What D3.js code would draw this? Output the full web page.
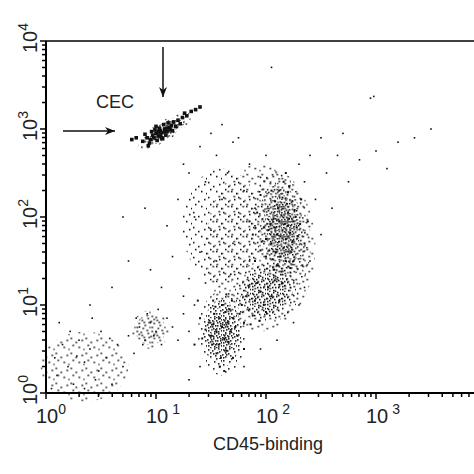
<!DOCTYPE html>
<html>
<head>
<meta charset="utf-8">
<style>body{margin:0;background:#fff}text{font-family:"Liberation Sans",Arial,sans-serif}</style>
</head>
<body>
<script src="https://cdn.jsdelivr.net/npm/d3@7"></script>
<script>
// points as [log10 x, log10 y]
var cecPoints = [[0.88,2.86],[0.92,2.90],[0.95,2.88],[0.97,2.93],[1.00,2.95],[1.02,2.92],[1.04,2.98],[1.06,2.96],[1.08,3.00],[1.10,2.97],[1.12,3.02],[1.14,3.04],[1.05,2.90],[0.99,2.99],[1.03,3.01],[1.07,3.05],[1.11,3.07],[1.16,3.08],[1.20,3.10],[1.24,3.13],[1.28,3.15],[0.94,2.84],[1.01,2.87],[1.09,2.93],[0.90,2.94],[0.96,2.97],[1.13,2.99],[1.18,3.03],[1.22,3.06],[1.00,3.03],[0.93,2.81],[1.06,2.89],[1.15,2.98],[0.98,2.90],[1.04,2.94],[1.08,2.97],[1.02,2.97],[1.10,3.01],[1.26,3.18],[1.32,3.20],[0.82,2.90],[0.78,2.88],[1.36,3.22],[1.40,3.25]];
var lymphPoints = [[2.15,1.85],[2.10,1.80],[2.20,1.90],[2.12,1.95],[2.18,1.75],[2.08,1.88],[2.22,1.82],[2.14,2.02],[2.05,1.70],[2.25,1.95],[2.16,1.65],[2.11,2.10],[2.20,2.05],[2.02,1.85],[2.28,1.88],[2.13,1.55],[2.19,2.15],[2.07,1.98],[2.24,1.72],[2.09,1.60],[2.17,1.92],[2.13,1.78],[2.21,1.98],[2.04,1.92],[2.26,2.08],[2.15,2.22],[2.10,1.45],[2.18,1.50],[2.06,1.52],[2.23,1.60],[2.12,2.30],[2.20,2.28],[2.16,2.40],[2.08,2.18],[2.29,1.78],[2.00,1.75],[2.03,1.62],[2.14,1.38],[2.22,1.42],[2.18,2.50],[1.92,2.05],[1.88,1.80],[1.95,2.25],[2.32,2.20],[2.35,1.70],[2.33,1.45],[1.90,1.50],[1.98,1.88],[2.27,2.00],[2.24,2.18],[1.96,1.72],[2.31,1.92],[2.00,1.55],[1.95,1.62],[2.07,1.40],[2.25,1.50],[2.21,2.35],[2.05,2.30],[2.38,1.95],[1.85,1.95]];
var monoPoints = [[1.60,0.75],[1.55,0.70],[1.65,0.80],[1.58,0.85],[1.62,0.62],[1.52,0.78],[1.68,0.70],[1.57,0.55],[1.63,0.92],[1.50,0.65],[1.70,0.85],[1.55,0.45],[1.60,1.00],[1.66,0.58],[1.53,0.90],[1.59,0.40],[1.72,0.75],[1.48,0.80],[1.64,0.48],[1.42,0.62],[1.40,0.85],[1.67,0.95],[1.58,0.30],[1.62,0.25],[1.45,0.72],[1.74,0.65],[1.51,0.55],[1.69,1.05],[1.54,0.98],[1.80,0.50],[1.76,0.90],[1.70,0.40],[1.52,1.05],[1.64,1.12],[1.80,0.80],[1.85,0.95],[1.90,1.05],[1.95,1.15],[1.88,0.88],[1.98,1.00],[2.02,1.20],[1.92,1.25],[1.82,1.10],[2.05,1.10],[1.78,1.00],[1.86,0.78],[2.00,0.92],[1.94,0.82],[2.08,1.28],[1.84,1.22],[2.12,1.05],[2.15,1.25],[1.38,1.05],[1.35,0.55]];
var sparsePoints = [[0.10,0.20],[0.25,0.10],[0.35,0.35],[0.15,0.55],[0.45,0.15],[0.55,0.40],[0.30,0.60],[0.05,0.05],[0.60,0.10],[0.20,0.30],[0.40,0.50],[0.50,0.70],[0.65,0.55],[0.70,0.30],[0.12,0.80],[0.35,0.05],[0.48,0.25],[0.28,0.42],[0.58,0.62],[0.08,0.40],[0.22,0.70],[0.42,0.85],[0.75,0.65],[0.80,0.45],[0.85,0.75],[0.90,0.60],[0.95,0.80],[1.00,0.70],[0.92,0.90],[1.05,0.55],[0.88,0.55],[0.98,0.65],[1.10,0.85],[0.82,0.85],[1.02,0.95],[1.15,0.75],[1.20,0.60],[1.25,0.90],[1.30,0.70],[1.35,1.00],[1.05,1.20],[0.95,1.40],[1.15,1.55],[1.30,1.30],[1.40,1.60],[1.45,1.25],[1.50,1.85],[1.55,1.50],[1.35,2.00],[1.60,2.20],[1.45,2.40],[1.70,1.70],[1.75,2.00],[1.65,2.50],[1.80,2.30],[1.55,2.70],[1.70,2.85],[1.85,2.60],[1.90,1.90],[1.95,2.45],[2.00,2.70],[1.40,2.80],[1.25,2.60],[1.20,2.20],[1.10,1.90],[0.90,2.10],[0.70,2.00],[0.60,1.20],[0.40,1.00],[0.75,1.50],[1.50,2.95],[1.60,3.05],[1.75,2.90],[1.30,2.50],[2.35,2.40],[2.45,2.20],[2.55,2.50],[2.65,2.70],[2.75,2.40],[2.85,2.65],[3.00,2.75],[3.10,2.55],[3.20,2.85],[3.35,2.90],[3.50,3.00],[2.40,2.70],[2.60,2.10],[2.50,1.80],[2.40,1.50],[2.35,1.20],[2.30,1.00],[2.25,0.80],[2.10,0.60],[1.95,0.50],[1.80,0.30],[1.40,0.30],[1.30,0.15],[2.95,3.35],[2.98,3.37],[2.05,3.70],[1.90,2.10],[1.85,1.50],[1.68,1.35],[1.25,1.10],[2.30,2.60],[2.50,2.90],[2.70,2.95]];
// stippled density regions: [log x, log y, log x radius, log y radius, rotation deg, density levels 1-4]
var densityRegions = [[1.95,1.65,0.5,0.95,0,1],[1.6,1.9,0.36,0.65,0,1],[0.35,0.3,0.4,0.4,0,1],[2.0,1.15,0.3,0.35,0,3],[0.95,0.72,0.17,0.22,0,2],[2.15,1.85,0.25,0.68,-8,4],[1.6,0.68,0.22,0.48,0,4],[1.08,2.98,0.28,0.11,-32,4]];

var w = 474, h = 474;
var m = {left: 46, top: 41, bottom: 81};
var svg = d3.select("body").append("svg").attr("width", w).attr("height", h);

var x = d3.scaleLog().domain([1, 1e4]).range([m.left, m.left + 4 * 110]);
var y = d3.scaleLog().domain([1, 1e4]).range([h - m.bottom, m.top]);
var xDec = x(10) - x(1), yDec = y(1) - y(10);

var defs = svg.append("defs");
// stipple tiles, each level adds dots in new spots
var tiles = [
	[[1,1],[6,5],[3,8],[12,3],[9,10],[14,12]],
	[[5,2],[0,6],[8,7],[3,4],[11,0],[13,7],[7,13],[1,12]],
	[[7,0],[2,2],[10,4],[4,6],[1,9],[12,10],[6,10],[14,1],[9,14],[3,14]],
	[[3,0],[0,4],[5,8],[8,11],[2,6],[9,2],[13,5],[11,13],[6,3],[14,9],[4,11],[10,7]]
];
tiles.forEach(function(t, i){
	var pat = defs.append("pattern").attr("id", "stip" + i).attr("width", 15).attr("height", 15)
		.attr("patternUnits", "userSpaceOnUse");
	t.forEach(function(p){
		pat.append("rect").attr("x", p[0]).attr("y", p[1]).attr("width", 1.5).attr("height", 1.5).attr("fill", "#000");
	});
});
var levelScale = [1, 0.8, 0.62, 0.45];

var rg = svg.append("g");
densityRegions.forEach(function(d){
	// inner rings get more dot layers
	for (var i = 0; i < d[5]; i++) {
		rg.append("ellipse")
			.attr("transform", "translate(" + x(Math.pow(10, d[0])) + "," + y(Math.pow(10, d[1])) + ") rotate(" + d[4] + ")")
			.attr("rx", d[2] * xDec * levelScale[i]).attr("ry", d[3] * yDec * levelScale[i])
			.attr("fill", "url(#stip" + i + ")");
	}
});

function drawDots(pts, r) {
	svg.append("g").selectAll("rect").data(pts).enter().append("rect")
		.attr("x", function(d){ return x(Math.pow(10, d[0])) - r; })
		.attr("y", function(d){ return y(Math.pow(10, d[1])) - r; })
		.attr("width", 2 * r).attr("height", 2 * r).attr("fill", "#111");
}
drawDots(sparsePoints, 0.8);
drawDots(monoPoints, 1);
drawDots(lymphPoints, 1);
drawDots(cecPoints, 1.8);

// frame
svg.append("line").attr("x1", m.left).attr("x2", w).attr("y1", m.top).attr("y2", m.top).attr("stroke", "#000").attr("stroke-width", 1.5);

var minorX = [], minorY = [];
for (var e = 0; e < 4; e++) for (var k = 1; k < 10; k++) { minorX.push(k * Math.pow(10, e)); minorY.push(k * Math.pow(10, e)); }
minorY.push(1e4);

var xg = svg.append("g").attr("transform", "translate(0," + (h - m.bottom) + ")");
xg.append("line").attr("x1", m.left).attr("x2", w).attr("stroke", "#000").attr("stroke-width", 2);
xg.selectAll("line.t").data(minorX.filter(function(v){ return x(v) <= w; })).enter().append("line")
	.attr("x1", x).attr("x2", x).attr("y1", 0)
	.attr("y2", function(v){ return Math.log10(v) % 1 === 0 ? 6 : 4; })
	.attr("stroke", "#000").attr("stroke-width", 1.5);

var yg = svg.append("g").attr("transform", "translate(" + m.left + ",0)");
yg.append("line").attr("y1", y(1)).attr("y2", y(1e4)).attr("stroke", "#000").attr("stroke-width", 2);
yg.selectAll("line.t").data(minorY).enter().append("line")
	.attr("y1", y).attr("y2", y).attr("x1", 0)
	.attr("x2", function(v){ return Math.log10(v) % 1 === 0 ? -6 : -4; })
	.attr("stroke", "#000").attr("stroke-width", 1.5);

[0, 1, 2, 3].forEach(function(d){
	var t = svg.append("text").attr("x", x(Math.pow(10, d)) - 10).attr("y", h - m.bottom + 30)
		.attr("font-size", 20).attr("fill", "#222");
	t.append("tspan").text("10");
	t.append("tspan").attr("dy", -9).attr("dx", d ? 4 : 0).attr("font-size", 14).text(d);
});
[0, 1, 2, 3, 4].forEach(function(d){
	var t = svg.append("text").attr("transform", "translate(37," + (y(Math.pow(10, d)) + 12) + ") rotate(-90)")
		.attr("font-size", 20).attr("fill", "#222");
	t.append("tspan").text("10");
	t.append("tspan").attr("dy", -9).attr("font-size", 14).text(d);
});

svg.append("text").attr("x", 268).attr("y", 450).attr("text-anchor", "middle")
	.attr("font-size", 18).attr("fill", "#222").text("CD45-binding");

// annotation
defs.append("marker").attr("id", "ah").attr("viewBox", "0 0 10 10").attr("refX", 10).attr("refY", 5)
	.attr("markerWidth", 10).attr("markerHeight", 10).attr("markerUnits", "userSpaceOnUse").attr("orient", "auto")
	.append("path").attr("d", "M0,1 L10,5 L0,9 L3,5 Z").attr("fill", "#111");
svg.append("line").attr("x1", 163).attr("y1", 47).attr("x2", 163).attr("y2", 97)
	.attr("stroke", "#111").attr("stroke-width", 1.5).attr("marker-end", "url(#ah)");
svg.append("line").attr("x1", 63).attr("y1", 131).attr("x2", 115).attr("y2", 131)
	.attr("stroke", "#111").attr("stroke-width", 1.5).attr("marker-end", "url(#ah)");
svg.append("text").attr("x", 96).attr("y", 108).attr("font-size", 18).attr("fill", "#222").text("CEC");
</script>
</body>
</html>
